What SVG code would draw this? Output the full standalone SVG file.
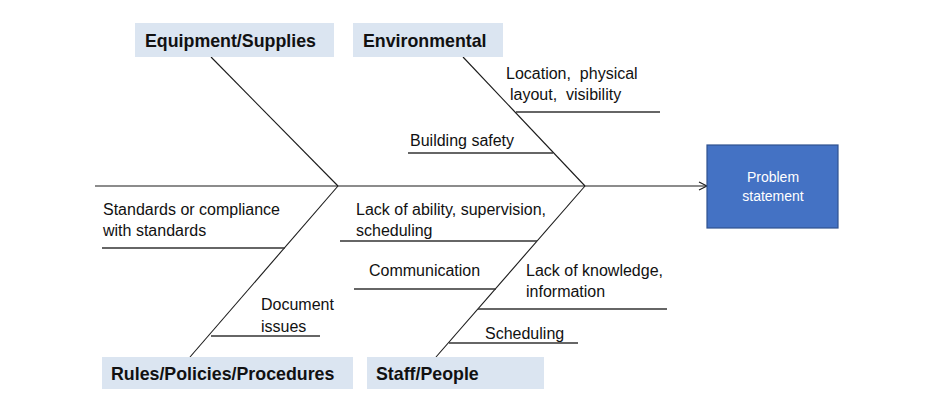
<svg xmlns="http://www.w3.org/2000/svg" width="935" height="418" viewBox="0 0 935 418">
<style>
.hdr{fill:#dbe5f1}
.ht{font-family:"Liberation Sans",Arial,sans-serif;font-weight:bold;font-size:17.8px;fill:#111}
.t{font-family:"Liberation Sans",Arial,sans-serif;font-size:16px;fill:#111}
.bone{stroke:#1a1a1a;stroke-width:1.1;fill:none}
.sub{stroke:#333;stroke-width:1.4;fill:none}
.pt{font-family:"Liberation Sans",Arial,sans-serif;font-size:14px;fill:#fff;text-anchor:middle}
</style>
<defs>
<marker id="arr" markerWidth="12" markerHeight="12" refX="10" refY="6" orient="auto" markerUnits="userSpaceOnUse">
<polyline points="2,2 10,6 2,10" fill="none" stroke="#1a1a1a" stroke-width="1.1"/>
</marker>
</defs>
<rect width="935" height="418" fill="#fff"/>
<g id="connectors">
<line class="bone" x1="95" y1="186" x2="707" y2="186" marker-end="url(#arr)"/>
<line class="bone" x1="211" y1="57" x2="338" y2="186"/>
<line class="bone" x1="463" y1="57" x2="585" y2="186"/>
<line class="bone" x1="338" y1="186" x2="190" y2="357"/>
<line class="bone" x1="585" y1="186" x2="436" y2="357"/>
<line class="sub" x1="516" y1="112" x2="660" y2="112"/>
<line class="sub" x1="408" y1="153" x2="553" y2="153"/>
<line class="sub" x1="102" y1="248" x2="285" y2="248"/>
<line class="sub" x1="211" y1="336" x2="320" y2="336"/>
<line class="sub" x1="340" y1="241" x2="537" y2="241"/>
<line class="sub" x1="354" y1="289" x2="496" y2="289"/>
<line class="sub" x1="478" y1="309" x2="667" y2="309"/>
<line class="sub" x1="449" y1="343" x2="578" y2="343"/>
</g>
<g id="equipment">
<rect class="hdr" x="135" y="23" width="199" height="34"/>
<text class="ht" x="145" y="47">Equipment/Supplies</text>
</g>
<g id="environmental">
<rect class="hdr" x="353" y="23" width="150" height="34"/>
<text class="ht" x="363" y="47">Environmental</text>
</g>
<g id="rules">
<rect class="hdr" x="102" y="357" width="251" height="32"/>
<text class="ht" x="111" y="380">Rules/Policies/Procedures</text>
</g>
<g id="staff">
<rect class="hdr" x="367" y="357" width="177" height="32"/>
<text class="ht" x="376" y="380">Staff/People</text>
</g>
<g id="problem">
<rect x="707" y="145" width="131" height="83" fill="#4472c4" stroke="#2f528f" stroke-width="1.2"/>
<text class="pt" x="773" y="182">Problem</text>
<text class="pt" x="773" y="201">statement</text>
</g>
<g id="causes">
<text class="t" x="506" y="79" xml:space="preserve">Location,  physical</text>
<text class="t" x="510" y="100" xml:space="preserve">layout,  visibility</text>
<text class="t" x="410" y="146">Building safety</text>
<text class="t" x="103" y="215">Standards or compliance</text>
<text class="t" x="103" y="236">with standards</text>
<text class="t" x="261" y="310">Document</text>
<text class="t" x="261" y="332">issues</text>
<text class="t" x="356" y="215">Lack of ability, supervision,</text>
<text class="t" x="356" y="236">scheduling</text>
<text class="t" x="369" y="276">Communication</text>
<text class="t" x="526" y="276">Lack of knowledge,</text>
<text class="t" x="526" y="297">information</text>
<text class="t" x="485" y="339">Scheduling</text>
</g>
</svg>
